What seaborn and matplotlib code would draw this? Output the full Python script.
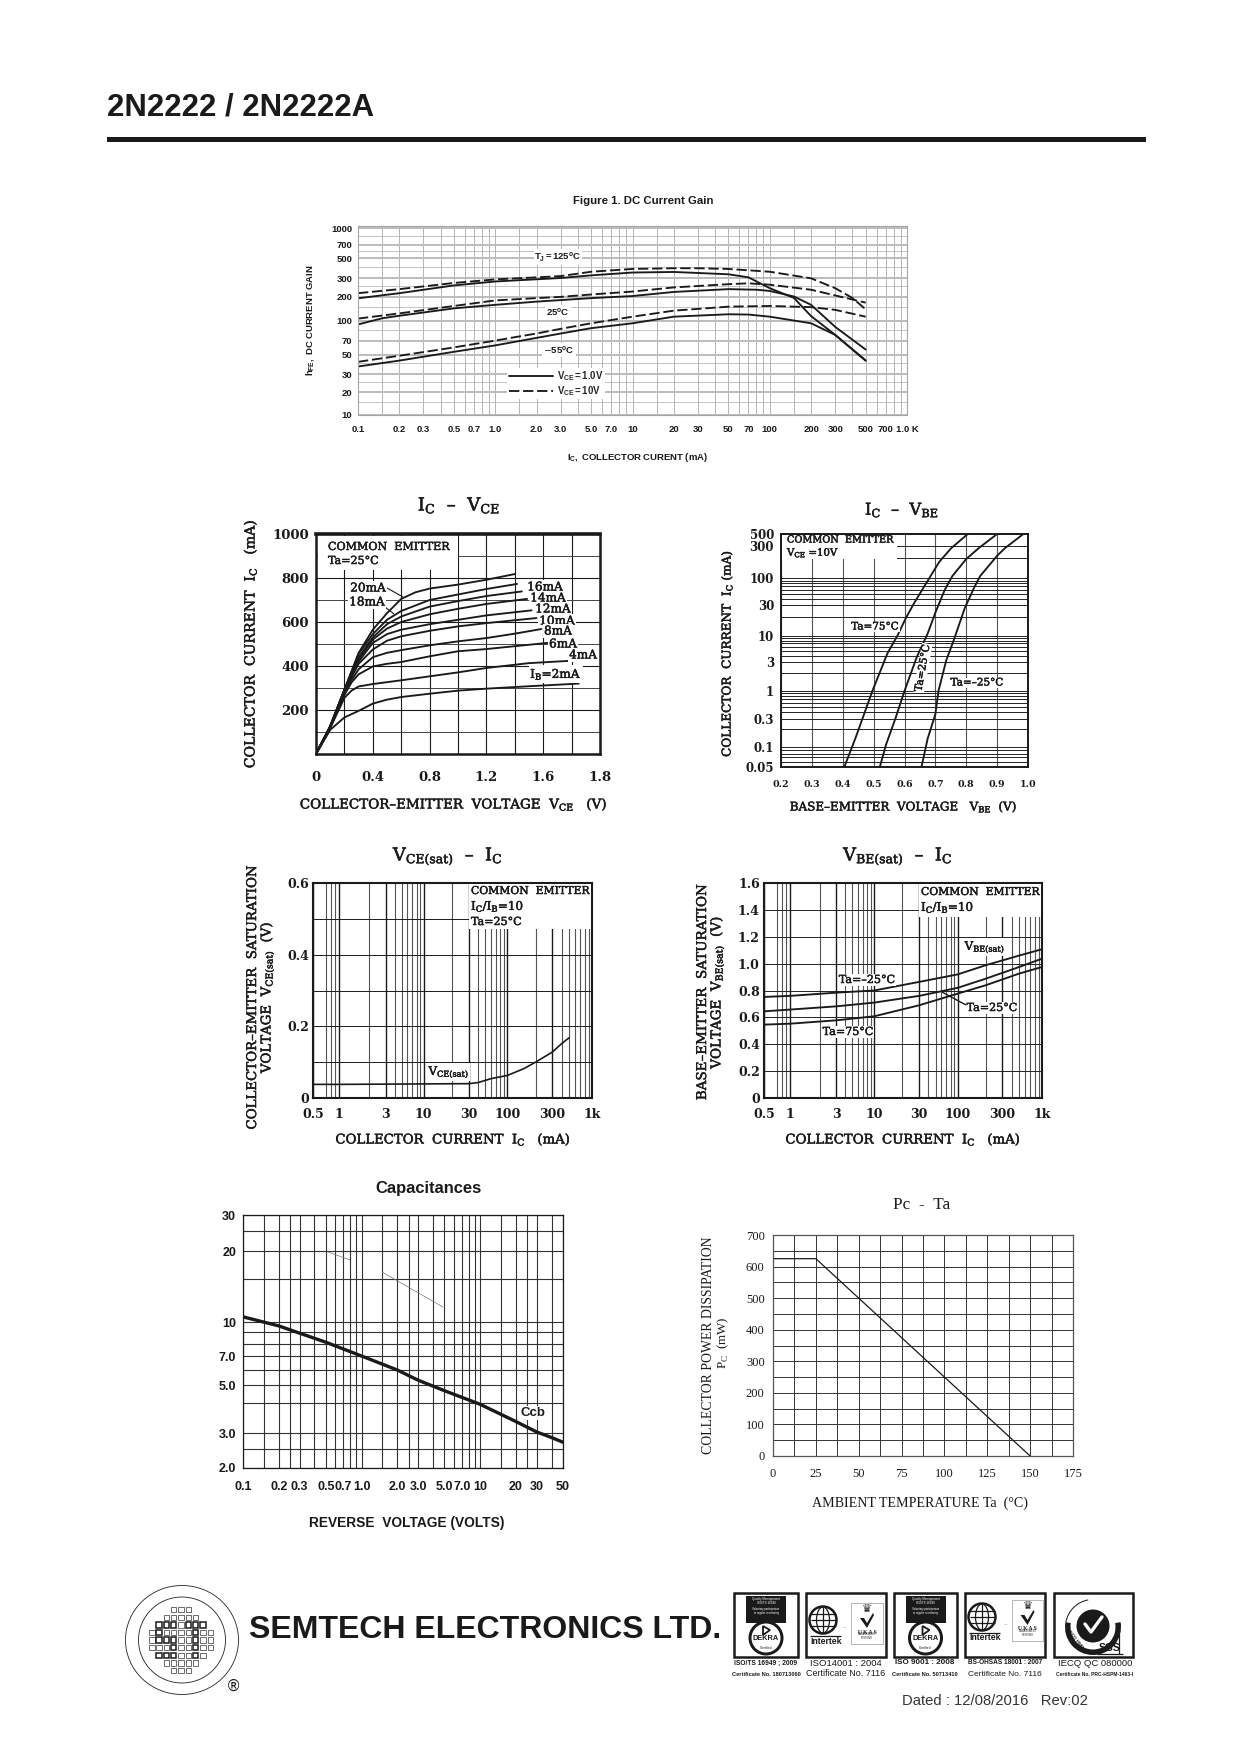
import numpy as np
import matplotlib
matplotlib.use('Agg')
import matplotlib.pyplot as plt
import matplotlib.patheffects as pe
import seaborn as sns
from matplotlib.lines import Line2D
from matplotlib.patches import Rectangle, Circle, Ellipse, Wedge, Polygon
from matplotlib.ticker import NullFormatter

# ---------- Figure 1 : DC current gain ----------
gain_yticks = [10, 20, 30, 50, 70, 100, 200, 300, 500, 700, 1000]
gain_xticks = [0.1, 0.2, 0.3, 0.5, 0.7, 1, 2, 3, 5, 7, 10, 20, 30, 50, 70, 100, 200, 300, 500, 700, 1000]
gain_xlabels = ['0.1', '0.2', '0.3', '0.5', '0.7', '1.0', '2.0', '3.0', '5.0', '7.0', '10', '20', '30', '50', '70',
                '100', '200', '300', '500', '700', '1.0 K']
gain_125_solid_x = [0.1, 0.2, 0.5, 1, 3, 5, 10, 20, 50, 70, 100, 150, 200, 300, 500]
gain_125_solid_y = [190, 215, 255, 278, 300, 321, 345, 350, 330, 305, 240, 192, 115, 78, 43]
gain_125_dash_x = [0.1, 0.2, 0.5, 1, 2, 3, 5, 10, 20, 30, 50, 100, 200, 300, 400, 500]
gain_125_dash_y = [215, 235, 269, 291, 305, 315, 352, 378, 385, 385, 378, 352, 298, 240, 192, 139]
gain_25_solid_x = [0.1, 0.15, 0.2, 0.5, 1, 2, 5, 10, 20, 50, 80, 100, 150, 200, 300, 500]
gain_25_solid_y = [94, 108, 116, 143, 158, 173, 191, 202, 221, 235, 232, 226, 200, 158, 90, 57]
gain_25_dash_x = [0.1, 0.2, 0.5, 1, 2, 3, 5, 10, 20, 50, 70, 100, 200, 500]
gain_25_dash_y = [107, 124, 153, 179, 191, 198, 209, 223, 244, 262, 267, 259, 232, 168]
gain_m55_solid_x = [0.1, 0.2, 0.5, 1, 2, 3, 5, 10, 20, 50, 70, 100, 200, 300, 500]
gain_m55_solid_y = [36.7, 43, 54, 63, 74, 80, 88, 96, 113, 121, 120, 113, 96, 78, 43]
gain_m55_dash_x = [0.1, 0.2, 0.5, 1, 1.5, 2, 3, 5, 10, 20, 50, 100, 200, 300, 500]
gain_m55_dash_y = [41.6, 49, 60, 70.5, 76, 80, 87, 96, 113, 134, 150, 153, 148, 137, 113]

# ---------- IC - VCE ----------
vce_curves = {
    '20mA': ([0, .1, .2, .3, .4, .5, .6, .7, .8, 1.0, 1.2, 1.40], [0, 126, 292, 459, 565, 640, 705, 735, 752, 770, 792, 818]),
    '18mA': ([0, .1, .2, .3, .4, .5, .6, .8, 1.0, 1.2, 1.416], [0, 126, 292, 455, 545, 610, 650, 700, 725, 750, 773]),
    '16mA': ([0, .1, .2, .3, .4, .5, .6, .8, 1.0, 1.2, 1.45], [0, 126, 292, 440, 530, 590, 625, 670, 695, 718, 739]),
    '14mA': ([0, .1, .2, .3, .4, .5, .6, .8, 1.0, 1.2, 1.487], [0, 126, 290, 430, 520, 570, 600, 635, 660, 682, 705]),
    '12mA': ([0, .1, .2, .3, .4, .5, .6, .8, 1.0, 1.2, 1.518], [0, 126, 288, 420, 505, 545, 565, 590, 610, 630, 653]),
    '10mA': ([0, .1, .2, .3, .4, .5, .6, .8, 1.0, 1.2, 1.553], [0, 124, 286, 410, 475, 515, 535, 560, 580, 595, 618]),
    '8mA': ([0, .1, .2, .3, .4, .5, .6, .8, 1.0, 1.2, 1.4, 1.587], [0, 122, 285, 385, 440, 460, 472, 494, 512, 527, 547, 568]),
    '6mA': ([0, .1, .2, .25, .3, .4, .5, .6, .8, 1.0, 1.2, 1.63], [0, 120, 268, 325, 362, 398, 410, 418, 444, 467, 477, 505]),
    '4mA': ([0, .1, .2, .25, .3, .4, .6, .8, 1.0, 1.2, 1.5, 1.80], [0, 118, 255, 288, 307, 318, 335, 353, 371, 391, 413, 424]),
    '2mA': ([0, .1, .2, .3, .4, .5, .6, .8, 1.0, 1.2, 1.5, 1.85], [0, 110, 166, 196, 229, 247, 259, 274, 288, 297, 308, 320]),
}
vce_xticks = [0, .4, .8, 1.2, 1.6, 2.0]
vce_xlabels = ['0', '0.4', '0.8', '1.2', '1.6', '1.8']
vce_yticks = [200, 400, 600, 800, 1000]

# ---------- IC - VBE ----------
vbe_75_x = [.405, .441, .496, .545, .577, .604, .631, .68, .713, .751, .805]
vbe_75_y = [.05, .142, 1, 4.5, 10, 18.7, 33, 100, 176, 278, 500]
vbe_25_x = [.52, .54, .57, .60, .64, .675, .70, .73, .755, .80, .84, .90]
vbe_25_y = [.05, .11, .3, 1, 3.8, 10.8, 23, 59, 108, 193, 278, 500]
vbe_m25_x = [.655, .675, .70, .71, .735, .76, .795, .825, .845, .90, .925, .985]
vbe_m25_y = [.05, .14, .37, 1, 3.2, 8.3, 27, 65, 108, 215, 278, 500]
vbe_xticks = [.2, .3, .4, .5, .6, .7, .8, .9, 1.0]
vbe_yticks = [.05, .1, .3, 1, 3, 10, 30, 100, 300, 500]
vbe_ylabels = ['0.05', '0.1', '0.3', '1', '3', '10', '30', '100', '300', '500']

# ---------- saturation curves ----------
sat_xticks = [.5, 1, 3, 10, 30, 100, 300, 1000]
sat_xlabels = ['0.5', '1', '3', '10', '30', '100', '300', '1k']
vcesat_x = [.5, 1, 30, 40, 60, 100, 150, 200, 300, 400, 500]
vcesat_y = [.038, .038, .040, .043, .054, .063, .082, .10, .128, .152, .168]
vcesat_yticks = [0, .2, .4, .6]
vcesat_ylabels = ['0', '0.2', '0.4', '0.6']
vbesat_x = [.5, 1, 3, 10, 30, 100, 200, 500, 1000]
vbesat_m25 = [.752, .76, .784, .80, .864, .92, .988, 1.06, 1.107]
vbesat_25 = [.645, .658, .682, .71, .76, .82, .888, .975, 1.037]
vbesat_75 = [.546, .553, .578, .608, .69, .777, .839, .926, .975]
vbesat_yticks = [0, .2, .4, .6, .8, 1.0, 1.2, 1.4, 1.6]
vbesat_ylabels = ['0', '0.2', '0.4', '0.6', '0.8', '1.0', '1.2', '1.4', '1.6']

# ---------- capacitance ----------
cap_x = [.1, .2, .3, .5, 1, 2, 3, 5, 10, 20, 30, 40, 50]
cap_y = [10.5, 9.6, 8.9, 8.14, 7.0, 6.0, 5.3, 4.66, 3.95, 3.35, 3.03, 2.85, 2.7]
cap_xticks = [.1, .2, .3, .5, .7, 1, 2, 3, 5, 7, 10, 20, 30, 50]
cap_xlabels = ['0.1', '0.2', '0.3', '0.5', '0.7', '1.0', '2.0', '3.0', '5.0', '7.0', '10', '20', '30', '50']
cap_yticks = [2, 3, 5, 7, 10, 20, 30]
cap_ylabels = ['2.0', '3.0', '5.0', '7.0', '10', '20', '30']

# ---------- power derating ----------
pc_x = [0, 25, 150]
pc_y = [625, 625, 0]
pc_xticks = [0, 25, 50, 75, 100, 125, 150, 175]
pc_yticks = [0, 100, 200, 300, 400, 500, 600, 700]

SANS = 'Liberation Sans'
SERIF = 'DejaVu Serif'
TIMES = 'Liberation Serif'

sns.set_theme(style='white')
plt.rcParams['font.family'] = [SANS, 'DejaVu Sans']
plt.rcParams['mathtext.fontset'] = 'custom'
plt.rcParams['mathtext.rm'] = SERIF
plt.rcParams['mathtext.sf'] = SANS + ':bold'
plt.rcParams['mathtext.it'] = TIMES
plt.rcParams['mathtext.bf'] = SERIF + ':bold'
plt.rcParams['mathtext.default'] = 'rm'

W, H = 1240, 1754
fig = plt.figure(figsize=(W / 100, H / 100), dpi=100, facecolor='white')


def make_ax(l, t, r, b, frame='k', frame_lw=1.0):
    ax = fig.add_axes([l / W, 1 - b / H, (r - l) / W, (b - t) / H])
    ax.set_facecolor('white')
    ax.set_axisbelow(True)
    for s in ax.spines.values():
        s.set_visible(True)
        s.set_color(frame)
        s.set_linewidth(frame_lw)
    return ax


def warp(ax, which, values, px):
    """Log-like axis of the printed chart paper, whose divisions are unevenly ruled."""
    lv = np.log10(values)
    p = np.asarray(px, dtype=float)
    if p[-1] < p[0]:
        p = -p
    fwd = lambda v: np.interp(np.log10(np.clip(v, 1e-12, None)), lv, p)
    inv = lambda f: 10 ** np.interp(f, p, lv)
    if which == 'x':
        ax.set_xscale('function', functions=(fwd, inv))
    else:
        ax.set_yscale('function', functions=(fwd, inv))


def decades(first, last, mult):
    return [m * 10.0 ** k for k in range(first, last) for m in mult]


def ticks(ax, xt, xl, xm, yt, yl, ym, fam, xs, ys, weight='normal', xpad=4, ypad=4):
    xlim, ylim = ax.get_xlim(), ax.get_ylim()
    ax.set_xticks(xt, xl)
    ax.set_yticks(yt, yl)
    ax.set_xticks(xm, minor=True)
    ax.set_yticks(ym, minor=True)
    ax.set_xlim(xlim)
    ax.set_ylim(ylim)
    ax.xaxis.set_minor_formatter(NullFormatter())
    ax.yaxis.set_minor_formatter(NullFormatter())
    ax.tick_params(which='both', length=0)
    ax.tick_params(axis='x', pad=xpad, labelsize=xs, labelcolor='k')
    ax.tick_params(axis='y', pad=ypad, labelsize=ys, labelcolor='k')
    for lab in ax.get_xticklabels() + ax.get_yticklabels():
        lab.set_family(fam)
        lab.set_weight(weight)


def curve(ax, x, y, lw=1.5, ls='-'):
    xlim, ylim = ax.get_xlim(), ax.get_ylim()
    sns.lineplot(x=np.array(x, dtype=float), y=np.array(y, dtype=float), ax=ax, color='k', linewidth=lw, linestyle=ls,
                 estimator=None, sort=False, legend=False, errorbar=None)
    ax.set_xlim(xlim)
    ax.set_ylim(ylim)
    ax.set_xlabel('')
    ax.set_ylabel('')


# ---- Figure 1
ax = make_ax(358, 226, 907, 415, frame='#a5a5a5', frame_lw=0.8)
ax.set_xscale('log')
warp(ax, 'y', [10, 20, 30, 50, 70, 100, 200, 300, 500, 700, 1000, 1100],
     [415, 392, 374, 355, 341, 321, 296.5, 278, 258, 245, 228, 226])
ax.set_xlim(0.1, 1000)
ax.set_ylim(10, 1100)
ticks(ax, gain_xticks, gain_xlabels, decades(-1, 3, [1, 1.5, 2, 3, 4, 5, 6, 7, 8, 9]),
      gain_yticks, [str(v) for v in gain_yticks], [15, 25, 40, 85, 150, 250, 400, 600, 850],
      SANS, 6.8, 6.8, 'bold', xpad=7, ypad=4)
ax.grid(which='major', axis='y', color='#bcbcbc', lw=1.4)
ax.grid(which='minor', axis='y', color='#b4b4b4', lw=0.55)
ax.grid(which='both', axis='x', color='#a0a0a0', lw=0.55)
for x_, y_, ls_ in [(gain_125_solid_x, gain_125_solid_y, '-'), (gain_125_dash_x, gain_125_dash_y, (0, (5.5, 2))),
                    (gain_25_solid_x, gain_25_solid_y, '-'), (gain_25_dash_x, gain_25_dash_y, (0, (5.5, 2))),
                    (gain_m55_solid_x, gain_m55_solid_y, '-'), (gain_m55_dash_x, gain_m55_dash_y, (0, (5.5, 2)))]:
    curve(ax, x_, y_, 1.35, ls_)
leg = ax.legend(handles=[Line2D([], [], color='k', lw=1.35), Line2D([], [], color='k', lw=1.35, ls=(0, (5.5, 2)))],
                labels=['$\\mathsf{V_{CE}{=}1.0V}$', '$\\mathsf{V_{CE}{=}10V}$'],
                loc='center', bbox_to_anchor=(556 / W, 1 - 383.5 / H), bbox_transform=fig.transFigure,
                frameon=True, framealpha=1, facecolor='white', edgecolor='none', fancybox=False,
                handlelength=4.6, handletextpad=0.4, labelspacing=0.1, borderpad=0.15,
                prop={'family': SANS, 'weight': 'bold', 'size': 6.9})

# ---- IC - VCE
ax = make_ax(316, 534, 600, 754, frame_lw=1.8)
ax.set_xlim(0, 2.0)
ax.set_ylim(0, 1000)
ticks(ax, vce_xticks, vce_xlabels, np.arange(0.2, 2.0, 0.4), vce_yticks, [str(v) for v in vce_yticks],
      [100, 300, 500, 700, 900], SERIF, 9.5, 9.5, 'bold', xpad=12, ypad=5)
ax.grid(which='both', color='k', lw=0.8)
ax.grid(which='minor', axis='y', color='#444444', lw=0.7)
ax.spines['top'].set_linewidth(2.6)
for name in vce_curves:
    curve(ax, vce_curves[name][0], vce_curves[name][1], 1.35)

# ---- IC - VBE
ax = make_ax(781, 534, 1028, 767, frame_lw=1.4)
warp(ax, 'y', [.044, .05, .1, .3, 1, 3, 10, 30, 100, 300, 500],
     [767, 767, 747.3, 719, 691, 662, 635.7, 605.3, 578.3, 546, 534])
ax.set_xlim(.2, 1.0)
ax.set_ylim(.05, 500)
ticks(ax, vbe_xticks, [f'{v:.1f}' for v in vbe_xticks], [], vbe_yticks, vbe_ylabels,
      decades(-2, 3, [1, 2, 3, 4, 5, 6, 7, 8, 9])[4:-7], SERIF, 6.8, 8.5, 'bold', xpad=9, ypad=5)
ax.grid(which='major', axis='x', color='#555555', lw=0.8)
ax.grid(which='both', axis='y', color='#222222', lw=0.7)
for x_, y_ in [(vbe_75_x, vbe_75_y), (vbe_25_x, vbe_25_y), (vbe_m25_x, vbe_m25_y)]:
    curve(ax, x_, y_, 1.35)

# ---- saturation charts
sat_vals = [.5, 1, 2, 3, 10, 20, 30, 100, 200, 300, 1000]
sat_px = [0, 78, 168, 217, 331, 415, 466, 582, 666, 716, 835]
sat_minor = [.7, .8, .9, 2, 4, 5, 6, 7, 8, 9, 20, 40, 50, 60, 70, 80, 90, 200, 400, 500, 600, 700, 800, 900]

ax = make_ax(313, 883, 592, 1098, frame_lw=1.5)
warp(ax, 'x', sat_vals, sat_px)
ax.set_xlim(.5, 1000)
ax.set_ylim(0, .6)
ticks(ax, sat_xticks, sat_xlabels, sat_minor, vcesat_yticks, vcesat_ylabels, [.1, .3, .5],
      SERIF, 9, 9, 'bold', xpad=7, ypad=3)
ax.grid(which='major', axis='x', color='k', lw=1.0)
ax.grid(which='minor', axis='x', color='#555555', lw=0.8)
ax.grid(which='both', axis='y', color='k', lw=0.7)
curve(ax, vcesat_x, vcesat_y, 1.2)

ax = make_ax(764, 883, 1042, 1098, frame_lw=1.5)
warp(ax, 'x', sat_vals, sat_px)
ax.set_xlim(.5, 1000)
ax.set_ylim(0, 1.6)
ticks(ax, sat_xticks, sat_xlabels, sat_minor, vbesat_yticks, vbesat_ylabels, [],
      SERIF, 9, 9, 'bold', xpad=7, ypad=3)
ax.grid(which='major', axis='x', color='k', lw=1.0)
ax.grid(which='minor', axis='x', color='#555555', lw=0.8)
ax.grid(which='major', axis='y', color='#222222', lw=0.7)
for y_ in (vbesat_m25, vbesat_25, vbesat_75):
    curve(ax, vbesat_x, y_, 1.35)

# ---- Capacitances
ax = make_ax(243, 1215, 563, 1468, frame_lw=0.9)
ax.set_xscale('log')
warp(ax, 'y', [2, 2.5, 3, 4, 5, 6, 7, 8, 9, 10, 15, 20, 25, 30],
     [1468, 1449, 1433, 1403, 1385, 1370, 1356, 1344, 1332, 1322, 1279, 1251, 1231, 1215])
ax.set_xlim(.1, 50)
ax.set_ylim(2, 30)
ticks(ax, cap_xticks, cap_xlabels, decades(-1, 1, [1, 1.5, 2, 2.5, 3, 4, 5, 6, 7, 8, 9]) + [15, 20, 25, 30, 40],
      cap_yticks, cap_ylabels, [2.5, 4, 6, 8, 9, 15, 25], SANS, 9, 9, 'bold', xpad=9, ypad=5)
ax.grid(which='both', axis='x', color='#333333', lw=0.8)
ax.grid(which='both', axis='y', color='#333333', lw=0.8)
curve(ax, cap_x, cap_y, 2.4)

# ---- Pc - Ta
ax = make_ax(773, 1235, 1073, 1456, frame='#555555', frame_lw=0.9)
ax.set_xlim(0, 175)
ax.set_ylim(0, 700)
ticks(ax, pc_xticks, [str(v) for v in pc_xticks], np.arange(12.5, 175, 25), pc_yticks, [str(v) for v in pc_yticks],
      np.arange(50, 700, 100), TIMES, 9, 9, 'normal', xpad=8.5, ypad=6)
ax.grid(which='both', color='#333333', lw=0.7)
curve(ax, pc_x, pc_y, 0.9)

# ---- page overlay in pixel coordinates: headings, callouts, footer
pg = fig.add_axes([0, 0, 1, 1], zorder=20)
pg.set_xlim(0, W)
pg.set_ylim(H, 0)
pg.axis('off')
pg.patch.set_alpha(0)


def T(x, y, s, fam=SERIF, size=9, weight='normal', ha='center', va='center', color='k', rot=0, box=False, **kw):
    if box:
        kw['bbox'] = dict(facecolor='white', edgecolor='none', pad=0.6)
    t = pg.text(x, y, s, family=fam, fontsize=size, fontweight=weight, ha=ha, va=va, color=color, rotation=rot, **kw)
    if fam == SERIF and weight == 'normal':
        t.set_path_effects([pe.withStroke(linewidth=0.35, foreground='k')])
    return t


def white(l, t, r, b):
    pg.add_patch(Rectangle((l, t), r - l, b - t, fc='white', ec='none'))


def seg(x0, y0, x1, y1, lw=0.8, color='k'):
    pg.add_line(Line2D([x0, x1], [y0, y1], lw=lw, color=color, solid_capstyle='butt'))


# header
T(107, 107, '2N2222 / 2N2222A', SANS, 22.4, 'bold', ha='left')
pg.add_patch(Rectangle((107, 137), 1039, 5, fc='k', ec='none'))

# figure 1 texts
T(643, 201, 'Figure 1. DC Current Gain', SANS, 8.2, 'bold')
T(638, 458, '$\\mathsf{I_{C},\\ COLLECTOR\\ CURENT\\ (mA)}$', SANS, 6.8, 'bold')
T(310, 320, '$\\mathsf{h_{FE},\\ DC\\ CURRENT\\ GAIN}$', SANS, 6.8, 'bold', rot=90)
T(558, 257, '$\\mathsf{T_{J}{=}125^{o}C}$', SANS, 6.8, 'bold', box=True)
T(558, 312, '$\\mathsf{25^{o}C}$', SANS, 6.8, 'bold', box=True)
T(559, 350, '$\\mathsf{\\mathrm{-}55^{o}C}$', SANS, 6.8, 'bold', box=True)

# IC-VCE
T(459, 505, 'I$_{\\mathrm{C}}$  –  V$_{\\mathrm{CE}}$', SERIF, 13)
T(454, 805, 'COLLECTOR–EMITTER  VOLTAGE  V$_{\\mathrm{CE}}$   (V)', SERIF, 9.7)
T(250, 644, 'COLLECTOR  CURRENT  I$_{\\mathrm{C}}$   (mA)', SERIF, 10.1, rot=90)
white(317.5, 536, 458, 570)
T(328, 547, 'COMMON  EMITTER', SERIF, 8, ha='left')
T(328, 561, 'Ta=25°C', SERIF, 8, ha='left')
for s_, x_, y_ in [('20mA', 368, 588), ('18mA', 367, 602), ('16mA', 545, 587), ('14mA', 548, 598), ('12mA', 553, 609),
                   ('10mA', 557, 621), ('8mA', 558, 631), ('6mA', 563, 644), ('4mA', 583, 655)]:
    T(x_, y_, s_, SERIF, 8.7, box=True)
T(556, 674, 'I$_{\\mathrm{B}}$=2mA', SERIF, 8.7, box=True)
seg(387, 588, 403, 597)
seg(385, 607, 394, 614)

# IC-VBE
T(902, 510, 'I$_{\\mathrm{C}}$  –  V$_{\\mathrm{BE}}$', SERIF, 11.7)
T(903, 807, 'BASE–EMITTER  VOLTAGE   V$_{\\mathrm{BE}}$  (V)', SERIF, 8.6)
T(727, 653, 'COLLECTOR  CURRENT  I$_{\\mathrm{C}}$ (mA)', SERIF, 8.7, rot=90)
white(782, 535, 897, 559)
T(787, 540, 'COMMON  EMITTER', SERIF, 7, ha='left')
T(787, 553, 'V$_{\\mathrm{CE}}$ =10V', SERIF, 7.3, ha='left')
T(875, 627, 'Ta=75°C', SERIF, 7.5, box=True)
T(923, 668, 'Ta=25°C', SERIF, 7.5, rot=80, box=True)
T(977, 683, 'Ta=–25°C', SERIF, 7.5, box=True)

# VCE(sat)
T(448, 856, 'V$_{\\mathrm{CE(sat)}}$  –  I$_{\\mathrm{C}}$', SERIF, 12.8)
T(453, 1140, 'COLLECTOR  CURRENT  I$_{\\mathrm{C}}$   (mA)', SERIF, 9.55)
T(261, 997, 'COLLECTOR–EMITTER  SATURATION\nVOLTAGE  V$_{\\mathrm{CE(sat)}}$  (V)', SERIF, 9.6, rot=90, linespacing=1.0,
  ma='center')
white(469, 884, 590.5, 929)
T(471, 891, 'COMMON  EMITTER', SERIF, 7.8, ha='left')
T(471, 906, 'I$_{\\mathrm{C}}$/I$_{\\mathrm{B}}$=10', SERIF, 8.6, ha='left')
T(471, 922, 'Ta=25°C', SERIF, 8, ha='left')
T(449, 1072, 'V$_{\\mathrm{CE(sat)}}$', SERIF, 8.4, box=True)

# VBE(sat)
T(898, 856, 'V$_{\\mathrm{BE(sat)}}$  –  I$_{\\mathrm{C}}$', SERIF, 12.8)
T(903, 1140, 'COLLECTOR  CURRENT  I$_{\\mathrm{C}}$   (mA)', SERIF, 9.55)
T(711, 992, 'BASE–EMITTER  SATURATION\nVOLTAGE  V$_{\\mathrm{BE(sat)}}$  (V)', SERIF, 9.7, rot=90, linespacing=1.0, ma='center')
white(919, 884, 1040.5, 917)
T(921, 892, 'COMMON  EMITTER', SERIF, 7.8, ha='left')
T(921, 907, 'I$_{\\mathrm{C}}$/I$_{\\mathrm{B}}$=10', SERIF, 8.6, ha='left')
T(985, 947, 'V$_{\\mathrm{BE(sat)}}$', SERIF, 8.4, box=True)
T(867, 980, 'Ta=–25°C', SERIF, 8, box=True)
T(848, 1032, 'Ta=75°C', SERIF, 8, box=True)
T(992, 1008, 'Ta=25°C', SERIF, 8, box=True)
seg(966, 1005, 942, 992, 1.0)

# Capacitances
T(428, 1188, 'Capacitances', SANS, 11.9, 'bold')
T(407, 1523, 'REVERSE  VOLTAGE (VOLTS)', SANS, 9.9, 'bold')
T(533, 1413, 'Ccb', SANS, 9.5, 'bold', box=True)
seg(328, 1252, 350, 1260, 0.5, '#777777')
seg(382, 1272, 443, 1307, 0.5, '#777777')

# Pc - Ta
T(922, 1205, 'Pc  -  Ta', TIMES, 12.4)
T(920, 1503, 'AMBIENT TEMPERATURE Ta  (°C)', TIMES, 10.1)
T(709, 1345, 'COLLECTOR POWER DISSIPATION', TIMES, 9.9, rot=90)
T(723, 1343, 'P$_{\\mathit{C}}$  (mW)', TIMES, 9.4, rot=90)

# footer: logo
lx, ly = 181, 1640
pg.add_patch(Ellipse((lx + 1, ly), 113, 109, fc='none', ec='#222222', lw=0.6))
pg.add_patch(Ellipse((lx + 1, ly), 87, 86, fc='none', ec='#222222', lw=0.6))
row_n = [3, 5, 7, 9, 9, 9, 7, 5, 3]
bold_cells = {2: [-3, -2, -1, 1, 2, 3], 3: [-3, 2], 4: [-3, -2, -1, 2], 5: [-1, 2], 6: [-3, -2, -1, 2]}
for r_, n_ in enumerate(row_n):
    for c_ in range(-(n_ // 2), n_ // 2 + 1):
        b_ = c_ in bold_cells.get(r_, [])
        pg.add_patch(Rectangle((lx + c_ * 7.3 - 2.7, ly + (r_ - 4) * 7.6 - 2.7), 5.4, 5.4, fc='none',
                               ec='k' if b_ else '#444444', lw=1.1 if b_ else 0.55))
T(233, 1686, '®', ['DejaVu Sans'], 11)
T(249, 1630, 'SEMTECH ELECTRONICS LTD.', SANS, 23, 'bold', ha='left')


def boxed(l, r):
    pg.add_patch(Rectangle((l, 1593), r - l, 64, fc='white', ec='k', lw=1.8))


def dekra(l, r):
    boxed(l, r)
    c = (l + r) / 2
    pg.add_patch(Rectangle((c - 20, 1596), 40, 27, fc='k', ec='none'))
    T(c, 1601, 'Quality Management\nISO/TS 16949', SANS, 2.2, color='white', linespacing=1.0)
    T(c, 1611, 'Voluntary participation\nin regular monitoring', SANS, 2, color='white', linespacing=1.0)
    pg.add_patch(Circle((c, 1638), 17.5, fc='k', ec='none'))
    pg.add_patch(Circle((c, 1638), 14.5, fc='white', ec='none'))
    T(c, 1639, 'DEKRA', SANS, 5.3, 'bold')
    pg.add_patch(Polygon([(c - 3, 1626), (c + 4, 1630), (c - 3, 1635)], closed=True, fc='none', ec='k', lw=1.3))
    T(c, 1648, 'Certified', SANS, 2.4)


def intertek(l, r, cx, py, px0, px1):
    boxed(l, r)
    pg.add_patch(Circle((cx, py), 13.5, fc='none', ec='k', lw=1.8))
    pg.add_patch(Ellipse((cx, py), 13, 26, fc='none', ec='k', lw=0.9))
    for dy in (-6, 0, 6):
        seg(cx - 12.5, py + dy, cx + 12.5, py + dy, 0.9)
    seg(cx, py - 13, cx, py + 13, 0.9)
    seg(l + 4, py + 15.5, cx + 18, py + 15.5, 0.9)
    T(l + 4, py + 21, 'Intertek', SANS, 6.2, 'bold', ha='left')
    T(px0 - 6, py + 7, '—', SANS, 2.5, color='#555555')
    pg.add_patch(Rectangle((px0, py - 17), px1 - px0, 41, fc='white', ec='#999999', lw=0.5))
    pm = (px0 + px1) / 2
    T(pm, py - 11, '♛', ['DejaVu Sans'], 8, color='#222222')
    pg.add_patch(Polygon([(pm - 7, py - 2), (pm - 3, py - 2), (pm, py + 3), (pm + 6, py - 7), (pm + 7, py - 5),
                          (pm, py + 8)], closed=True, fc='k', ec='none'))
    T(pm, py + 12, 'U K A S', TIMES, 4, 'bold')
    T(pm, py + 16, 'MANAGEMENT\nSYSTEMS', SANS, 1.8, linespacing=0.9)


dekra(734, 798)
intertek(806, 886, 823, 1620, 851, 883)
dekra(894, 957)
intertek(965, 1045, 982, 1617, 1012, 1043)

# SGS mark
boxed(1054, 1133)
cxs, cys = 1093, 1627
pg.add_patch(Wedge((cxs, cys), 28, -10, 190, width=5.5, fc='k', ec='none'))
pg.add_patch(Wedge((cxs, cys), 28, 190, 260, width=1, fc='k', ec='none'))
pg.add_patch(Circle((cxs, cys - 1), 16.5, fc='k', ec='none'))
pg.add_line(Line2D([cxs - 8, cxs - 2, cxs + 9], [cys - 3, cys + 5, cys - 10], color='white', lw=2.4))
T(1076, 1640, 'IECQ HSPM', SANS, 3.2, 'bold', rot=-52)
T(1110, 1648, 'SGS', SANS, 7.5, 'bold')
seg(1097, 1654, 1123, 1654, 0.9)
seg(1119, 1634, 1119, 1654, 0.9)

cert_cx = [766, 846, 925, 1005, 1095]
cert_top = ['ISO/TS 16949 ; 2009', 'ISO14001 : 2004', 'ISO 9001 : 2008', 'BS-OHSAS 18001 : 2007', 'IECQ QC 080000']
cert_bot = ['Certificate No. 180713060', 'Certificate No. 7116', 'Certificate No. 50713410', 'Certificate No. 7116',
            'Certificate No. PRC-HSPM-1463-I']
cert_ts = [4.8, 6.8, 5.8, 4.7, 6.8]
cert_bs = [4.1, 6.5, 4.1, 6.0, 3.5]
for cx_, a_, b_, sa_, sb_ in zip(cert_cx, cert_top, cert_bot, cert_ts, cert_bs):
    T(cx_, 1663, a_, SANS, sa_, 'bold' if sa_ < 6 else 'normal')
    T(cx_, 1674, b_, SANS, sb_, 'bold' if sb_ < 6 else 'normal')
T(995, 1701, 'Dated : 12/08/2016   Rev:02', SANS, 10.6, color='#333333')

fig.savefig('out.png', dpi=100)
